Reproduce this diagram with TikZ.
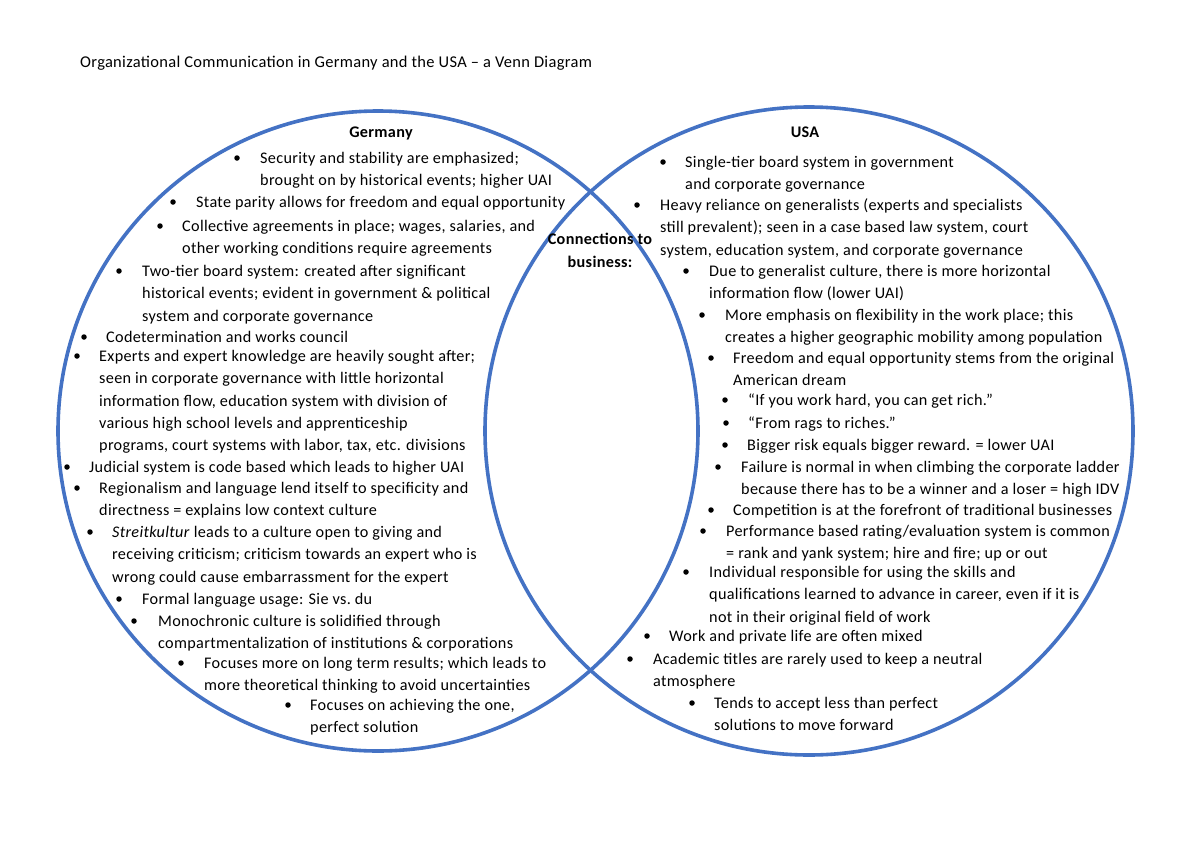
\documentclass[tikz,border=0pt]{standalone}
\usepackage{fontspec}
\setmainfont{Carlito}[LetterSpace=2]
\definecolor{vennblue}{RGB}{68,114,196}
\newcommand\mystrut{\rule{0pt}{14pt}}
\newcommand\vitem[5]{%
  \node[bul] (#1b) at (#2,#4) {};
  \node[txt] (#1) at (#3,#4-9) {\mystrut #5};}
\begin{document}
\begin{tikzpicture}[x=1pt,y=-1pt,
  txt/.style={anchor=north west, inner sep=0pt, align=left, font=\fontsize{16.2}{22.4}\selectfont},
  hdr/.style={anchor=base, inner sep=0pt, font=\fontsize{16.2}{22.4}\selectfont\bfseries},
  bul/.style={circle, fill=black, inner sep=0pt, minimum size=5.5pt},
  ring/.style={circle, draw=vennblue, line width=3.6pt, inner sep=0pt}]
\useasboundingbox[fill=white] (0,0) rectangle (1200,849);
\node[ring, minimum size=640pt] (germanyring) at (378,431) {};
\node[ring, minimum size=648pt] (usaring) at (809,431) {};
\node[anchor=base west, inner sep=0pt, font=\fontsize{16.45}{22.4}\selectfont] (title) at (80,67) {Organizational Communication in Germany and the USA -- a Venn Diagram};
\node[hdr] (germany) at (381,137) {Germany};
\node[hdr] (usa) at (805,137) {USA};
\node[hdr, align=center] (conn) at (600,267) {Connections to\\business:};
% Germany
\vitem{g1}{237}{260}{158}{Security and stability are emphasized;\\brought on by historical events; higher UAI}
\vitem{g2}{173}{196}{202}{State parity allows for freedom and equal opportunity}
\vitem{g3}{160}{182}{226}{Collective agreements in place; wages, salaries, and\\other working conditions require agreements}
\vitem{g4}{119}{142}{271}{Two-tier board system: created after significant\\historical events; evident in government \& political\\system and corporate governance}
\vitem{g5}{84}{106}{337}{Codetermination and works council}
\vitem{g6}{77}{99}{356}{Experts and expert knowledge are heavily sought after;\\seen in corporate governance with little horizontal\\information flow, education system with division of\\various high school levels and apprenticeship\\programs, court systems with labor, tax, etc. divisions}
\vitem{g7}{67}{89}{467}{Judicial system is code based which leads to higher UAI}
\vitem{g8}{77}{99}{488}{Regionalism and language lend itself to specificity and\\directness = explains low context culture}
\vitem{g9}{90}{112}{532}{\textit{Streitkultur} leads to a culture open to giving and\\receiving criticism; criticism towards an expert who is\\wrong could cause embarrassment for the expert}
\vitem{g10}{119}{142}{599}{Formal language usage: Sie vs.\ du}
\vitem{g11}{134}{158}{621}{Monochronic culture is solidified through\\compartmentalization of institutions \& corporations}
\vitem{g12}{181}{204}{663}{Focuses more on long term results; which leads to\\more theoretical thinking to avoid uncertainties}
\vitem{g13}{288}{310}{705}{Focuses on achieving the one,\\perfect solution}
% USA
\vitem{u1}{663}{685}{162}{Single-tier board system in government\\and corporate governance}
\vitem{u2}{637}{660}{205}{Heavy reliance on generalists (experts and specialists\\still prevalent); seen in a case based law system, court\\system, education system, and corporate governance}
\vitem{u3}{686}{709}{271}{Due to generalist culture, there is more horizontal\\information flow (lower UAI)}
\vitem{u4}{702}{725}{315}{More emphasis on flexibility in the work place; this\\creates a higher geographic mobility among population}
\vitem{u5}{711}{733}{358}{Freedom and equal opportunity stems from the original\\American dream}
\vitem{u6}{725}{748}{400}{“If you work hard, you can get rich.”}
\vitem{u7}{726}{748}{423}{“From rags to riches.”}
\vitem{u8}{725}{747}{445}{Bigger risk equals bigger reward. = lower UAI}
\vitem{u9}{718}{741}{467}{Failure is normal in when climbing the corporate ladder\\because there has to be a winner and a loser = high IDV}
\vitem{u10}{711}{733}{510}{Competition is at the forefront of traditional businesses}
\vitem{u11}{703}{726}{531}{Performance based rating/evaluation system is common\\= rank and yank system; hire and fire; up or out}
\vitem{u12}{686}{709}{572}{Individual responsible for using the skills and\\qualifications learned to advance in career, even if it is\\not in their original field of work}
\vitem{u13}{647}{669}{636}{Work and private life are often mixed}
\vitem{u14}{630}{653}{659}{Academic titles are rarely used to keep a neutral\\atmosphere}
\vitem{u15}{692}{714}{703}{Tends to accept less than perfect\\solutions to move forward}
\end{tikzpicture}
\end{document}
